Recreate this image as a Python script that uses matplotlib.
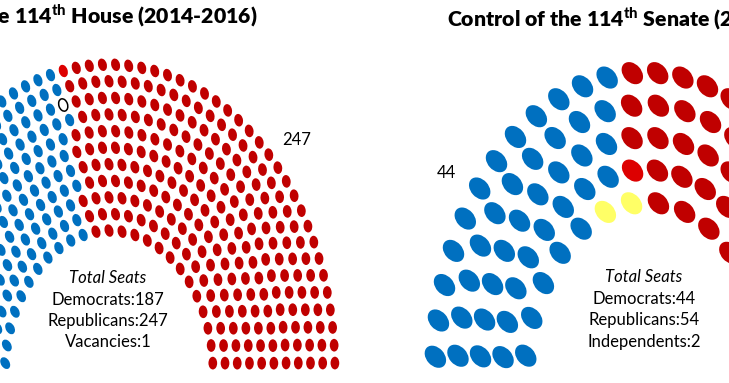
import numpy as np
import matplotlib.pyplot as plt
from matplotlib.patches import Ellipse

plt.rcParams['font.family'] = ['Lato', 'DejaVu Sans']
plt.rcParams['mathtext.fontset'] = 'custom'
plt.rcParams['mathtext.bf'] = 'Lato:black'
plt.rcParams['mathtext.rm'] = 'Lato'

# House of Representatives, 114th Congress
house_parties = ['Democrats', 'Vacancies', 'Republicans']
house_seats = [187, 1, 247]
house_colors = ['#0070C0', 'white', '#C00000']
house_rows = [25, 28, 31, 34, 37, 40, 42, 45, 48, 51, 54]

# Senate, 114th Congress
senate_parties = ['Democrats', 'Independents', 'Republicans']
senate_seats = [44, 2, 54]
senate_colors = ['#0070C0', '#FFFF66', '#C00000']
senate_rows = [14, 18, 20, 22, 26]

bright_red = '#DD0000'


def seat_layout(rows, r_in, r_out):
    radii = np.linspace(r_in, r_out, len(rows))
    seats = []
    for k, (r, n) in enumerate(zip(radii, rows)):
        ang = (np.arange(n) + 0.5) * np.pi / n
        for a in ang:
            seats.append((a, r, k))
    return seats


def assign(pos, seats, colors, mid_row):
    # the middle party sits in one row, nearest the dividing angle
    total = sum(seats)
    split = np.pi * (1 - (seats[0] + seats[1] / 2) / total)
    in_row = [i for i, p in enumerate(pos) if p[2] == mid_row]
    in_row.sort(key=lambda i: abs(pos[i][0] - split))
    mid = set(in_row[:seats[1]])
    rest = [i for i in range(len(pos)) if i not in mid]
    rest.sort(key=lambda i: (-pos[i][0], pos[i][1]))
    fill = {i: colors[1] for i in mid}
    for j, i in enumerate(rest):
        if j < seats[0]:
            fill[i] = colors[0]
        elif j == seats[0]:
            fill[i] = bright_red
        else:
            fill[i] = colors[2]
    return fill


def draw_parliament(ax, seats, colors, rows, cx, cy, r_in, r_out, stretch,
                    w, h, tilt, mid_row):
    pos = seat_layout(rows, r_in, r_out)
    fill = assign(pos, seats, colors, mid_row)
    for i, (a, r, k) in enumerate(pos):
        x = cx + r * np.cos(a)
        y = cy - r * stretch * np.sin(a)
        col = fill[i]
        ang = -tilt(np.degrees(a))
        if col == 'white':
            e = Ellipse((x, y), w, h, angle=ang, facecolor='white',
                        edgecolor='black', lw=1.1)
        else:
            e = Ellipse((x, y), w, h, angle=ang, facecolor=col, edgecolor='none')
        ax.add_patch(e)


fig = plt.figure(figsize=(7.29, 3.83), dpi=100)
ax = fig.add_axes([0, 0, 1, 1])
ax.set_xlim(0, 729)
ax.set_ylim(383, 0)
ax.axis('off')

draw_parliament(ax, house_seats, house_colors, house_rows,
                109, 372, 104, 226, 1.36, 8.7, 12.7,
                lambda d: 32 * d / 180, mid_row=8)
draw_parliament(ax, senate_seats, senate_colors, senate_rows,
                645, 375, 120, 210, 1.44, 18, 25,
                lambda d: 42, mid_row=0)

# titles
ax.text(258, 16, r'Control of the 114$^{\mathbf{th}}$ House (2014-2016)',
        ha='right', va='center', fontsize=15.3, fontweight='heavy')
ax.text(447, 19, r'Control of the 114$^{\mathbf{th}}$ Senate (2014-2016)',
        ha='left', va='center', fontsize=15.3, fontweight='heavy')

ax.text(297, 140, str(house_seats[2]), ha='center', va='center', fontsize=12)
ax.text(446, 173, str(senate_seats[0]), ha='center', va='center', fontsize=12)

ax.text(108, 278, 'Total Seats', ha='center', va='center', fontsize=12,
        style='italic')
for k, (lab, n) in enumerate([(house_parties[0], house_seats[0]),
                              (house_parties[2], house_seats[2]),
                              (house_parties[1], house_seats[1])]):
    ax.text(108, 300 + 21 * k, f'{lab}:{n}', ha='center', va='center',
            fontsize=12)

ax.text(644, 277, 'Total Seats', ha='center', va='center', fontsize=12,
        style='italic')
for k, (lab, n) in enumerate([(senate_parties[0], senate_seats[0]),
                              (senate_parties[2], senate_seats[2]),
                              (senate_parties[1], senate_seats[1])]):
    ax.text(644, 299 + 21.5 * k, f'{lab}:{n}', ha='center', va='center',
            fontsize=12)

fig.savefig('out.png', dpi=100)
